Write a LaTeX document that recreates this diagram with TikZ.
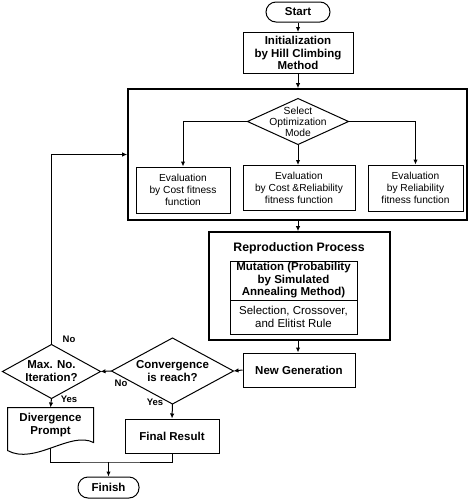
\documentclass[tikz,border=0pt]{standalone}
\usepackage{fontspec}
\setmainfont{Liberation Sans}
\usetikzlibrary{arrows.meta,calc}
\begin{document}
\begin{tikzpicture}[x=1pt,y=-1pt,
  base/.style={line width=1pt, align=center, inner sep=1pt, rectangle},
  bproc/.style={base, draw, font=\bfseries\fontsize{11.5}{12.5}\selectfont},
  nproc/.style={base, draw, font=\fontsize{10.2}{12}\selectfont},
  sproc/.style={base, draw, font=\fontsize{11.5}{13}\selectfont},
  term/.style={bproc, rounded corners=10pt},
  thickbox/.style={base, draw, line width=1.7pt},
  dectext/.style={base, draw=none, font=\bfseries\fontsize{11.5}{13}\selectfont},
  seltext/.style={base, draw=none, font=\fontsize{10.3}{11}\selectfont},
  dline/.style={line width=1pt, line join=miter},
  arr/.style={-{Latex[length=5pt,width=4.5pt]}, line width=1pt},
  lbl/.style={font=\bfseries\fontsize{9.5}{10}\selectfont, inner sep=0.5pt}
]
\useasboundingbox (0,0) rectangle (474,504);
% nodes
\node[term, minimum width=64pt, minimum height=20pt] (start) at (298,12) {Start};
\node[bproc, minimum width=110pt, minimum height=41pt] (init) at (298,53) {Initialization\\by Hill Climbing\\Method};
\node[thickbox, minimum width=339pt, minimum height=131pt] (cont) at (297.5,154.5) {};
\node[seltext, minimum width=100pt, minimum height=45pt] (sel) at (298,121.5) {Select\\Optimization\\Mode};
\draw[dline] (sel.north) -- (sel.east) -- (sel.south) -- (sel.west) -- cycle;
\node[nproc, minimum width=94pt, minimum height=46pt] (ev1) at (183,190) {Evaluation\\by Cost fitness\\function};
\node[nproc, minimum width=112pt, minimum height=45pt] (ev2) at (299,188) {Evaluation\\by Cost \&Reliability\\fitness function};
\node[nproc, minimum width=95pt, minimum height=46pt] (ev3) at (415.5,188) {Evaluation\\by Reliability\\fitness function};
\node[thickbox, minimum width=181pt, minimum height=108pt] (rep) at (299.5,286) {};
\node[base, font=\bfseries\fontsize{12.3}{13}\selectfont] (reptitle) at (299,248) {Reproduction Process};
\node[bproc, minimum width=127pt, minimum height=39pt] (mut) at (293.5,280.5) {Mutation (Probability\\by Simulated\\Annealing Method)};
\node[sproc, minimum width=127pt, minimum height=34pt] (selx) at (293.5,317) {Selection, Crossover,\\and Elitist Rule};
\node[bproc, minimum width=112pt, minimum height=34pt] (newg) at (299,370) {New Generation};
\node[dectext, minimum width=121pt, minimum height=65pt] (conv) at (172.5,371) {Convergence\\is reach?};
\draw[dline] (conv.north) -- (conv.east) -- (conv.south) -- (conv.west) -- cycle;
\node[dectext, minimum width=97pt, minimum height=53pt] (maxd) at (51.5,371.5) {Max. No.\\Iteration?};
\draw[dline] (maxd.north) -- (maxd.east) -- (maxd.south) -- (maxd.west) -- cycle;
\node[base, draw=none, font=\bfseries\fontsize{11.5}{13}\selectfont, minimum width=85pt, minimum height=34pt] (div) at (50.5,425) {Divergence\\Prompt};
\draw[dline] (div.north west) -- (div.north east) -- (div.south east)
  .. controls ($(div.south east)+(-23,-12)$) and ($(div.south west)+(27,23)$) .. ($(div.south west)+(0,8)$) -- cycle;
\coordinate (divb) at ($(div.south)+(0,5)$);
\node[bproc, minimum width=94pt, minimum height=34pt] (fin) at (172,436) {Final Result};
\node[term, minimum width=61pt, minimum height=21pt] (finish) at (108.5,487.5) {Finish};
\coordinate (m) at (108.5,462);
% connectors
\draw[arr] (start.south) -- (init.north);
\draw[arr] (init.south) -- (cont.north -| init.south);
\draw[arr] (sel.west) -| (ev1.north);
\draw[arr] (sel.east) -| (ev3.north);
\draw[arr] (sel.south) -- (sel.south |- ev2.north);
\draw[arr] (cont.south -| init.south) -- (rep.north -| init.south);
\draw[arr] (rep.south -| init.south) -- (newg.north -| init.south);
\draw[arr] (newg.west) -- (conv.east);
\draw[arr] (conv.west) -- (maxd.east);
\draw[arr] (conv.south) -- (fin.north);
\draw[arr] (maxd.south) -- (div.north);
\draw[arr] (maxd.north) |- (cont.west);
\draw[line width=1pt] (divb) |- (m) -| (fin.south);
\draw[arr] (m) -- (finish.north);
% labels
\node[lbl] (lno1) at (69,339) {No};
\node[lbl] (lno2) at (121,383) {No};
\node[lbl] (lyes1) at (69,399.5) {Yes};
\node[lbl] (lyes2) at (155,402) {Yes};
\end{tikzpicture}
\end{document}
